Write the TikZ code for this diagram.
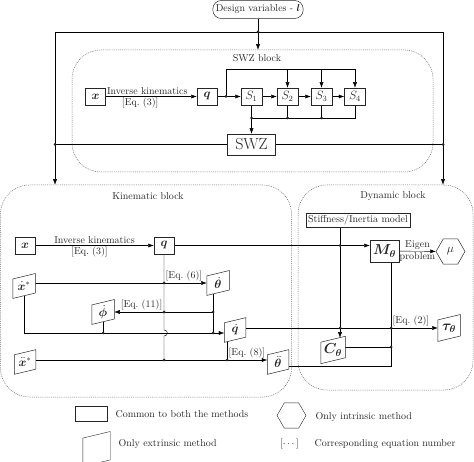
\documentclass[tikz,border=0pt]{standalone}
\usepackage{amsmath,bm}
\usetikzlibrary{arrows.meta,shapes.geometric,shapes.misc}
\pgfdeclarelayer{bg}
\pgfsetlayers{bg,main}
\makeatletter
\newdimen\sbxa \newdimen\sbya \newdimen\sbxb \newdimen\sbyb \newdimen\sbs
\pgfdeclareshape{slantbox}{%
  \inheritsavedanchors[from=rectangle]%
  \inheritanchorborder[from=rectangle]%
  \inheritanchor[from=rectangle]{center}%
  \inheritanchor[from=rectangle]{north}%
  \inheritanchor[from=rectangle]{south}%
  \inheritanchor[from=rectangle]{east}%
  \inheritanchor[from=rectangle]{west}%
  \inheritanchor[from=rectangle]{north east}%
  \inheritanchor[from=rectangle]{north west}%
  \inheritanchor[from=rectangle]{south east}%
  \inheritanchor[from=rectangle]{south west}%
  \inheritanchor[from=rectangle]{text}%
  \inheritanchor[from=rectangle]{base}%
  \inheritanchor[from=rectangle]{mid}%
  \backgroundpath{%
    \southwest \global\sbxa=\pgf@x \global\sbya=\pgf@y
    \northeast \global\sbxb=\pgf@x \global\sbyb=\pgf@y
    \global\sbs=\dimexpr(\sbxb-\sbxa)*12/100\relax
    \pgfpathmoveto{\pgfqpoint{\sbxa}{\dimexpr\sbya-\sbs\relax}}%
    \pgfpathlineto{\pgfqpoint{\sbxa}{\dimexpr\sbyb-\sbs\relax}}%
    \pgfpathlineto{\pgfqpoint{\sbxb}{\dimexpr\sbyb+\sbs\relax}}%
    \pgfpathlineto{\pgfqpoint{\sbxb}{\dimexpr\sbya+\sbs\relax}}%
    \pgfpathclose
  }%
}
\makeatother
\begin{document}
\begin{tikzpicture}[x=1pt,y=-1pt,line width=0.5pt,color=black!85,
  box/.style={draw,fill=white,minimum width=20pt,minimum height=17pt,inner sep=1.5pt,font=\large},
  ext/.style={shape=slantbox,draw,fill=white,minimum width=22pt,minimum height=19pt,inner sep=1pt,font=\large},
  hexa/.style={regular polygon,regular polygon sides=6,minimum size=29pt,inner sep=0pt,draw,fill=white,font=\large},
  blk/.style={draw=black!60,dash pattern=on 0.9pt off 1pt,line width=0.5pt,rounded corners=29pt,inner sep=0pt},
  arr/.style={-{Latex[length=5.5pt,width=4pt]}},
  lbl/.style={inner sep=1.5pt}]
\useasboundingbox (0,0) rectangle (474,462);

% blocks
\node[blk,minimum width=361pt,minimum height=122pt] (swzb) at (252.5,111) {};
\node[blk,minimum width=291pt,minimum height=212pt] (kb) at (146,291) {};
\node[blk,minimum width=175pt,minimum height=205pt] (db) at (385.5,287.5) {};
\node (swzl) at (257,58) {SWZ block};
\node (kbl) at (148,196) {Kinematic block};
\node (dbl) at (393,196) {Dynamic block};

% nodes
\node[draw,fill=white,rounded corners=8.5pt,inner sep=3pt,minimum height=18pt] (dv) at (258,9.5) {Design variables - $\boldsymbol{l}$};
\node[box] (xs) at (95.5,96.5) {$\boldsymbol{x}$};
\node[box] (qs) at (207,96.5) {$\boldsymbol{q}$};
\node[box,minimum width=21pt] (s1) at (251.5,96.5) {$S_1$};
\node[box,minimum width=21pt] (s2) at (287.5,96.5) {$S_2$};
\node[box,minimum width=21pt] (s3) at (321.5,96.5) {$S_3$};
\node[box,minimum width=21pt] (s4) at (355,96.5) {$S_4$};
\node[box,font=\fontsize{16}{19}\selectfont,minimum width=48pt,minimum height=21pt] (swz) at (251.5,144.5) {SWZ};

\node[box] (xk) at (25,245.5) {$\boldsymbol{x}$};
\node[box] (qk) at (164,245.5) {$\boldsymbol{q}$};
\node[ext] (xds) at (24,286) {$\dot{\boldsymbol{x}}^*$};
\node[ext] (thd) at (218,283) {$\dot{\boldsymbol{\theta}}$};
\node[ext] (phd) at (103,312) {$\dot{\boldsymbol{\phi}}$};
\node[ext,minimum width=21pt] (qd) at (235,330) {$\dot{\boldsymbol{q}}$};
\node[ext,minimum width=21pt] (xdd) at (25,362) {$\ddot{\boldsymbol{x}}^*$};
\node[ext,minimum width=21pt] (tdd) at (278,362) {$\ddot{\boldsymbol{\theta}}$};

\node[box,font=\Large,minimum width=29pt,minimum height=22pt] (mth) at (384.5,251) {$\boldsymbol{M}_{\boldsymbol{\theta}}$};
\node[hexa] (mu) at (450.5,251.5) {$\mu$};
\node[draw,fill=white,inner sep=2pt] (stiff) at (358,220.5) {Stiffness/Inertia model};
\node[ext,font=\Large,minimum width=24pt,minimum height=21pt] (cth) at (333,350) {$\boldsymbol{C}_{\boldsymbol{\theta}}$};
\node[ext,font=\Large,minimum width=22pt,minimum height=21pt] (tau) at (449,328) {$\boldsymbol{\tau}_{\boldsymbol{\theta}}$};

% connector helper coordinates
\coordinate (tl) at (55,32);
\coordinate (tr) at (443,32);
\coordinate (j1) at (226,96.5);
\coordinate (tp) at (226,69);
\coordinate (bt) at (251.5,118);
\coordinate (l1) at ([yshift=3pt]xds.east);
\coordinate (qdin) at ([yshift=-3pt]qd.west);
\coordinate (xddl) at ([yshift=2pt]xdd.east);
\coordinate (tddin) at ([yshift=2pt]tdd.west);
\coordinate (tv) at ([xshift=-5pt]thd.south);
\coordinate (qv) at ([xshift=-8pt]qd.south);
\coordinate (qdo) at ([yshift=2pt]qd.east);
\coordinate (sv) at ([xshift=-18pt]stiff.south);
\coordinate (cin) at ([xshift=7pt,yshift=1.5pt]cth.north);
\coordinate (mv) at ([xshift=6.5pt]mth.south);
\coordinate (tddo) at ([yshift=-4pt]tdd.east);
\coordinate (cout) at ([yshift=3pt]cth.east);

\begin{pgfonlayer}{bg}
% outer frame
\draw (tl) -- (tr);
\draw[arr] (tl) -- (tl |- kb.north);
\draw[arr] (tr) -- (tr |- db.north);
\draw[arr] (dv) -- (dv |- swzb.north);
\draw (tl |- swz) -- (swz.west);
\draw (swz.east) -- (tr |- swz);
% SWZ block
\draw[arr] (xs) -- (qs) node[midway,above,lbl,xshift=-4pt] {Inverse kinematics} node[midway,below,lbl,xshift=-11pt] {[Eq.~(3)]};
\draw (qs) -- (j1);
\draw[arr] (j1) -- (s1);
\draw[arr] (j1) -- (tp) -| (s4.north);
\draw[arr] (s2 |- tp) -- (s2.north);
\draw[arr] (s3 |- tp) -- (s3.north);
\draw[arr] (s1) -- (s2);
\draw[arr] (s2) -- (s3);
\draw[arr] (s3) -- (s4);
\draw (s1.south) -- (s1 |- bt) -| (s4.south);
\draw (s2.south) -- (s2 |- bt);
\draw (s3.south) -- (s3 |- bt);
\draw[arr] (s1 |- bt) -- (swz.north);
% kinematic block
\draw[arr] (xk) -- (qk) node[midway,above,lbl] {Inverse kinematics} node[midway,below,lbl,xshift=-5pt] {[Eq.~(3)]};
\draw[arr] (qk) -- (qk -| mth.west);
\draw[arr] (l1) -- (thd.west);
\draw[arr] (xddl) -- (tddin);
\draw (qk.south) -- (164,330) .. controls (168.5,330) and (168.5,336) .. (164,336) -- (qk |- xddl);
\draw[arr] (xds.south) |- (qdin);
\draw (tv) -- (tv |- qdin);
\draw[arr] (tv |- phd) -- (phd.east);
\draw (phd.south) -- (phd |- qdin);
\draw (qv) -- (qv |- xddl);
% dynamic block
\draw[arr] (qdo) -- (qdo -| tau.west);
\draw[arr] (sv) -- (cin);
\draw[arr] (mth) -- (mu) node[midway,above,lbl] {Eigen} node[midway,below,lbl] {problem};
\draw (mv) |- (tddo);
\draw (cout) -- (cout -| mv);
\end{pgfonlayer}

% equation labels
\node[lbl,anchor=south west] (e6) at (qk |- l1) {[Eq.~(6)]};
\node[lbl,anchor=south east] (e11) at (qk |- phd) {[Eq.~(11)]};
\node[lbl,anchor=south west] (e8) at (qv |- xddl) {[Eq.~(8)]};
\node[lbl,anchor=south west] (e2) at (mv |- qdo) {[Eq.~(2)]};

% junction dots
\foreach \p in {(dv |- tl),(tl |- swz),(tr |- swz),(j1),(s1 |- bt),(s2 |- bt),(s3 |- bt),
  (qk |- l1),(qk |- phd),(tv |- phd),(tv |- qdin),(phd |- qdin),(qk |- xddl),(qv |- xddl),
  (sv |- qk),(sv |- qdo),(mv |- qdo),(mv |- cout)}
  \fill \p circle[radius=1.5];

% legend
\node[draw,minimum width=32pt,minimum height=15pt,inner sep=0pt] (lg1) at (91,413.5) {};
\node[anchor=west] (lt1) at (112,414) {Common to both the methods};
\node[hexa] (lg2) at (291.5,415.5) {};
\node[anchor=west] (lt2) at (312,417) {Only intrinsic method};
\node[ext,minimum width=27pt,minimum height=28pt] (lg3) at (96.5,449) {};
\node[anchor=west] (lt3) at (115,444) {Only extrinsic method};
\node (lg4) at (289.5,444) {$[\cdots]$};
\node[anchor=west] (lt4) at (311,444) {Corresponding equation number};
\end{tikzpicture}
\end{document}
